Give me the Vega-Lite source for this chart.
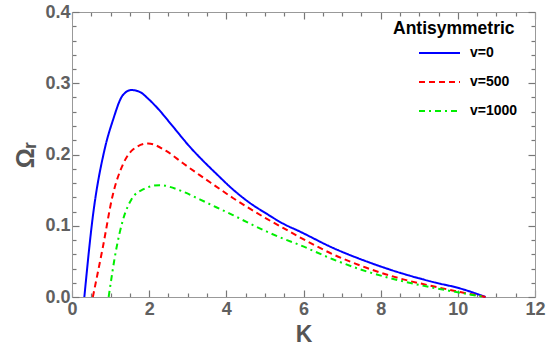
{
  "$schema": "https://vega.github.io/schema/vega-lite/v6.json",
  "width": 463,
  "height": 285,
  "autosize": {"type": "none"},
  "padding": {"left": 72, "top": 12, "right": 15, "bottom": 64},
  "background": "white",
  "view": {"stroke": null},
  "data": {
    "values": [
      {"K": 0.32, "W": 0.0, "v": "v=0"},
      {"K": 0.54, "W": 0.113, "v": "v=0"},
      {"K": 0.84, "W": 0.206, "v": "v=0"},
      {"K": 1.06, "W": 0.248, "v": "v=0"},
      {"K": 1.32, "W": 0.2835, "v": "v=0"},
      {"K": 1.54, "W": 0.2905, "v": "v=0"},
      {"K": 1.75, "W": 0.288, "v": "v=0"},
      {"K": 2.0, "W": 0.277, "v": "v=0"},
      {"K": 2.2, "W": 0.266, "v": "v=0"},
      {"K": 2.62, "W": 0.239, "v": "v=0"},
      {"K": 3.05, "W": 0.211, "v": "v=0"},
      {"K": 3.4, "W": 0.191, "v": "v=0"},
      {"K": 3.74, "W": 0.173, "v": "v=0"},
      {"K": 4.17, "W": 0.151, "v": "v=0"},
      {"K": 4.61, "W": 0.132, "v": "v=0"},
      {"K": 5.04, "W": 0.117, "v": "v=0"},
      {"K": 5.47, "W": 0.103, "v": "v=0"},
      {"K": 5.9, "W": 0.092, "v": "v=0"},
      {"K": 6.76, "W": 0.069, "v": "v=0"},
      {"K": 7.63, "W": 0.050, "v": "v=0"},
      {"K": 8.5, "W": 0.034, "v": "v=0"},
      {"K": 9.36, "W": 0.021, "v": "v=0"},
      {"K": 10.06, "W": 0.012, "v": "v=0"},
      {"K": 10.72, "W": 0.0, "v": "v=0"},
      {"K": 0.54, "W": 0.0, "v": "v=500"},
      {"K": 0.8, "W": 0.070, "v": "v=500"},
      {"K": 1.06, "W": 0.144, "v": "v=500"},
      {"K": 1.32, "W": 0.186, "v": "v=500"},
      {"K": 1.58, "W": 0.207, "v": "v=500"},
      {"K": 1.97, "W": 0.2155, "v": "v=500"},
      {"K": 2.44, "W": 0.205, "v": "v=500"},
      {"K": 2.87, "W": 0.188, "v": "v=500"},
      {"K": 3.31, "W": 0.171, "v": "v=500"},
      {"K": 3.74, "W": 0.155, "v": "v=500"},
      {"K": 4.17, "W": 0.139, "v": "v=500"},
      {"K": 4.61, "W": 0.124, "v": "v=500"},
      {"K": 5.04, "W": 0.110, "v": "v=500"},
      {"K": 5.47, "W": 0.097, "v": "v=500"},
      {"K": 5.9, "W": 0.084, "v": "v=500"},
      {"K": 6.76, "W": 0.060, "v": "v=500"},
      {"K": 7.63, "W": 0.041, "v": "v=500"},
      {"K": 8.5, "W": 0.026, "v": "v=500"},
      {"K": 9.36, "W": 0.015, "v": "v=500"},
      {"K": 10.06, "W": 0.007, "v": "v=500"},
      {"K": 10.72, "W": 0.0, "v": "v=500"},
      {"K": 0.95, "W": 0.0, "v": "v=1000"},
      {"K": 1.15, "W": 0.068, "v": "v=1000"},
      {"K": 1.32, "W": 0.108, "v": "v=1000"},
      {"K": 1.54, "W": 0.137, "v": "v=1000"},
      {"K": 1.84, "W": 0.151, "v": "v=1000"},
      {"K": 2.27, "W": 0.157, "v": "v=1000"},
      {"K": 2.87, "W": 0.148, "v": "v=1000"},
      {"K": 3.31, "W": 0.137, "v": "v=1000"},
      {"K": 3.74, "W": 0.126, "v": "v=1000"},
      {"K": 4.17, "W": 0.115, "v": "v=1000"},
      {"K": 4.61, "W": 0.103, "v": "v=1000"},
      {"K": 5.04, "W": 0.092, "v": "v=1000"},
      {"K": 5.47, "W": 0.082, "v": "v=1000"},
      {"K": 5.9, "W": 0.073, "v": "v=1000"},
      {"K": 6.76, "W": 0.053, "v": "v=1000"},
      {"K": 7.63, "W": 0.036, "v": "v=1000"},
      {"K": 8.5, "W": 0.023, "v": "v=1000"},
      {"K": 9.36, "W": 0.013, "v": "v=1000"},
      {"K": 10.06, "W": 0.006, "v": "v=1000"},
      {"K": 10.7, "W": 0.0, "v": "v=1000"}
    ]
  },
  "layer": [
    {
      "mark": {"type": "line", "strokeWidth": 2, "interpolate": "monotone"},
      "encoding": {
        "x": {
          "field": "K", "type": "quantitative",
          "scale": {"domain": [0, 12], "nice": false},
          "axis": {
            "orient": "bottom",
            "title": "K",
            "titleFont": "Liberation Sans", "titleFontSize": 23, "titleFontWeight": "bold", "titleColor": "#555555", "titlePadding": 2,
            "values": [0,0.5,1,1.5,2,2.5,3,3.5,4,4.5,5,5.5,6,6.5,7,7.5,8,8.5,9,9.5,10,10.5,11,11.5,12],
            "labelExpr": "datum.value % 2 === 0 ? format(datum.value, 'd') : ''",
            "labelFont": "Liberation Sans", "labelFontSize": 18, "labelFontWeight": "bold", "labelColor": "#606060",
            "labelPadding": 10, "labelFlush": false, "labelOverlap": false,
            "gridOpacity": 0, "tickColor": "#777777", "tickWidth": 1.2, "domainColor": "#999999",
            "tickSize": {"condition": {"test": "datum.value % 2 === 0", "value": -7}, "value": -4}
          }
        },
        "y": {
          "field": "W", "type": "quantitative",
          "scale": {"domain": [0, 0.4], "nice": false},
          "axis": {
            "orient": "left",
            "title": "Ωᵣ",
            "titleFont": "Liberation Sans", "titleFontSize": 25, "titleFontWeight": "bold", "titleColor": "#555555", "titlePadding": 6,
            "values": [0,0.02,0.04,0.06,0.08,0.1,0.12,0.14,0.16,0.18,0.2,0.22,0.24,0.26,0.28,0.3,0.32,0.34,0.36,0.38,0.4],
            "labelExpr": "abs(datum.value*10 - round(datum.value*10)) < 0.001 ? format(datum.value, '.1f') : ''",
            "labelFont": "Liberation Sans", "labelFontSize": 18, "labelFontWeight": "bold", "labelColor": "#606060",
            "labelPadding": 9, "labelFlush": false, "labelOverlap": false,
            "gridOpacity": 0, "tickColor": "#777777", "tickWidth": 1.2, "domainColor": "#999999",
            "tickSize": {"condition": {"test": "abs(datum.value*10 - round(datum.value*10)) < 0.001", "value": -7}, "value": -4}
          }
        },
        "color": {
          "field": "v", "type": "nominal",
          "scale": {"domain": ["v=0", "v=500", "v=1000"], "range": ["#0000ff", "#ff0000", "#00ee00"]},
          "legend": {
            "title": "Antisymmetric",
            "orient": "none", "legendX": 321, "legendY": 8,
            "padding": 0,
            "titleFont": "Liberation Sans", "titleFontSize": 17.5, "titleFontWeight": "bold", "titleColor": "black", "titlePadding": -6,
            "labelFont": "Liberation Sans", "labelFontSize": 14, "labelFontWeight": "bold", "labelColor": "black",
            "symbolType": "stroke", "symbolSize": 1681, "symbolStrokeWidth": 2,
            "symbolOffset": 25, "labelOffset": 9, "rowPadding": -32
          }
        },
        "strokeDash": {
          "field": "v", "type": "nominal",
          "scale": {"domain": ["v=0", "v=500", "v=1000"], "range": [[1, 0], [6, 4], [6, 4, 2, 4]]},
          "legend": {
            "title": "Antisymmetric",
            "orient": "none", "legendX": 321, "legendY": 8,
            "padding": 0,
            "titleFont": "Liberation Sans", "titleFontSize": 17.5, "titleFontWeight": "bold", "titleColor": "black", "titlePadding": -6,
            "labelFont": "Liberation Sans", "labelFontSize": 14, "labelFontWeight": "bold", "labelColor": "black",
            "symbolType": "stroke", "symbolSize": 1681, "symbolStrokeWidth": 2,
            "symbolOffset": 25, "labelOffset": 9, "rowPadding": -32
          }
        }
      }
    },
    {
      "mark": {"type": "line", "opacity": 0},
      "encoding": {
        "x": {
          "field": "K", "type": "quantitative",
          "scale": {"domain": [0, 12], "nice": false},
          "axis": {
            "orient": "top", "title": null, "labels": false,
            "values": [0,0.5,1,1.5,2,2.5,3,3.5,4,4.5,5,5.5,6,6.5,7,7.5,8,8.5,9,9.5,10,10.5,11,11.5,12],
            "gridOpacity": 0, "tickColor": "#777777", "tickWidth": 1.2, "domainColor": "#999999",
            "tickSize": {"condition": {"test": "datum.value % 2 === 0", "value": -7}, "value": -4}
          }
        },
        "y": {
          "field": "W", "type": "quantitative",
          "scale": {"domain": [0, 0.4], "nice": false},
          "axis": {
            "orient": "right", "title": null, "labels": false,
            "values": [0,0.02,0.04,0.06,0.08,0.1,0.12,0.14,0.16,0.18,0.2,0.22,0.24,0.26,0.28,0.3,0.32,0.34,0.36,0.38,0.4],
            "gridOpacity": 0, "tickColor": "#777777", "tickWidth": 1.2, "domainColor": "#999999",
            "tickSize": {"condition": {"test": "abs(datum.value*10 - round(datum.value*10)) < 0.001", "value": -7}, "value": -4}
          }
        },
        "detail": {"field": "v", "type": "nominal"}
      }
    }
  ],
  "resolve": {"axis": {"x": "independent", "y": "independent"}}
}
